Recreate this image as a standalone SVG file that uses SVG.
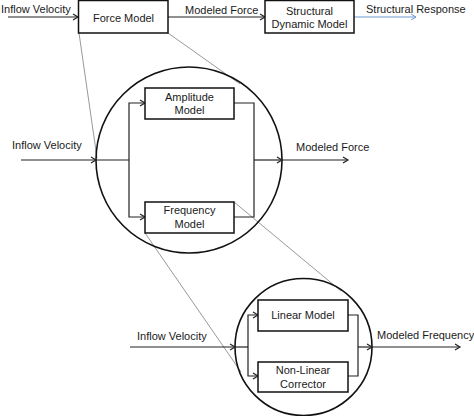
<svg xmlns="http://www.w3.org/2000/svg" width="474" height="416" viewBox="0 0 474 416">
<defs>
<style>
text{font-family:"Liberation Sans",Arial,sans-serif;font-size:11px;fill:#1a1a1a}
.box{fill:#fff;stroke:#111;stroke-width:1.5}
.circ{fill:none;stroke:#111;stroke-width:1.6}
.ln{fill:none;stroke:#222;stroke-width:1.2}
.gl{fill:none;stroke:#999;stroke-width:1}
.bl{fill:none;stroke:#6f98cf;stroke-width:1}
.m{text-anchor:middle}
</style>
<marker id="a" markerWidth="8" markerHeight="8" refX="6" refY="4" orient="auto" markerUnits="userSpaceOnUse">
<path d="M1,1 L6,4 L1,7" fill="none" stroke="#222" stroke-width="1.2"/>
</marker>
<marker id="ab" markerWidth="8" markerHeight="8" refX="6" refY="4" orient="auto" markerUnits="userSpaceOnUse">
<path d="M1,1 L6,4 L1,7" fill="none" stroke="#6f98cf" stroke-width="1"/>
</marker>
</defs>
<rect width="474" height="416" fill="#fff"/>

<g id="zoom-lines">
<line class="gl" x1="79" y1="33" x2="97" y2="158"/>
<line class="gl" x1="168" y1="33" x2="240" y2="84"/>
<line class="gl" x1="145" y1="233" x2="241" y2="372"/>
<line class="gl" x1="234" y1="202" x2="341" y2="291"/>
</g>

<g id="circles">
<circle class="circ" cx="189" cy="160" r="93"/>
<circle class="circ" cx="303.5" cy="347" r="68.5"/>
</g>

<g id="connectors">
<path class="ln" d="M8,17 H78" marker-end="url(#a)"/>
<path class="ln" d="M168,17 H265" marker-end="url(#a)"/>
<path class="bl" d="M354,17 H416" marker-end="url(#ab)"/>

<path class="ln" d="M21,160 H96" marker-end="url(#a)"/>
<path class="ln" d="M96,160 H129"/>
<path class="ln" d="M129,160 V103 H145" marker-end="url(#a)"/>
<path class="ln" d="M129,160 V217 H145" marker-end="url(#a)"/>
<path class="ln" d="M234,103 H254 V217 H234"/>
<path class="ln" d="M254,160 H282" marker-end="url(#a)"/>
<path class="ln" d="M282,160 H348" marker-end="url(#a)"/>

<path class="ln" d="M130,347 H235" marker-end="url(#a)"/>
<path class="ln" d="M235,347 H248"/>
<path class="ln" d="M248,347 V315 H258" marker-end="url(#a)"/>
<path class="ln" d="M248,347 V376 H258" marker-end="url(#a)"/>
<path class="ln" d="M348,315 H358 V376 H348"/>
<path class="ln" d="M358,347 H372" marker-end="url(#a)"/>
<path class="ln" d="M372,347 H460" marker-end="url(#a)"/>
</g>

<g id="force-model">
<rect class="box" x="78.5" y="0.5" width="89.5" height="32.5"/>
<text class="m" x="123.5" y="21.5">Force Model</text>
</g>
<g id="structural-dynamic-model">
<rect class="box" x="265" y="0.5" width="89" height="32.5"/>
<text class="m" x="309.5" y="15">Structural</text>
<text class="m" x="309.5" y="28">Dynamic Model</text>
</g>
<g id="amplitude-model">
<rect class="box" x="145" y="88" width="89" height="31"/>
<text class="m" x="189.5" y="101">Amplitude</text>
<text class="m" x="189.5" y="114">Model</text>
</g>
<g id="frequency-model">
<rect class="box" x="145" y="202" width="89" height="31"/>
<text class="m" x="189.5" y="214">Frequency</text>
<text class="m" x="189.5" y="228">Model</text>
</g>
<g id="linear-model">
<rect class="box" x="258" y="300" width="90" height="31"/>
<text class="m" x="303" y="319">Linear Model</text>
</g>
<g id="non-linear-corrector">
<rect class="box" x="258" y="362" width="90" height="30"/>
<text class="m" x="303" y="374">Non-Linear</text>
<text class="m" x="303" y="388">Corrector</text>
</g>

<g id="labels">
<text x="1" y="13">Inflow Velocity</text>
<text x="185" y="14">Modeled Force</text>
<text x="366" y="13">Structural Response</text>
<text x="12" y="149">Inflow Velocity</text>
<text x="296" y="151">Modeled Force</text>
<text x="137" y="340">Inflow Velocity</text>
<text x="377" y="339">Modeled Frequency</text>
</g>
</svg>
